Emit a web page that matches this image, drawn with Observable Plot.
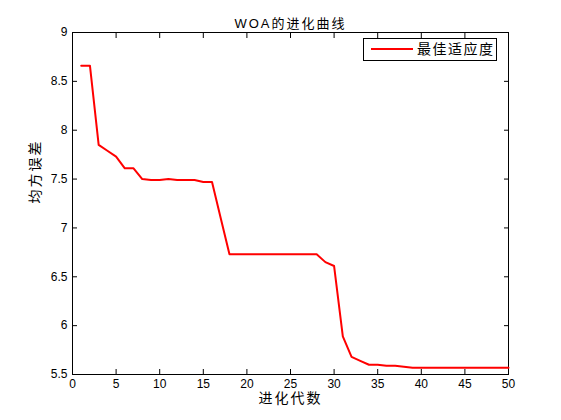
<!DOCTYPE html>
<html>
<head>
<meta charset="utf-8">
<script src="https://cdn.jsdelivr.net/npm/d3@7"></script>
<script src="https://cdn.jsdelivr.net/npm/@observablehq/plot@0.6"></script>
<style>
  html, body { margin: 0; padding: 0; background: #fff; }
  #wrap { position: relative; width: 561px; height: 420px; }
  #legend { position: absolute; left: 363px; top: 38px; width: 134px; height: 23px; border: 1px solid #000; background: #fff;
    font-family: "Liberation Sans", "Noto Sans CJK SC", sans-serif; font-size: 14px; box-sizing: border-box; }
  #legend .ln { position: absolute; left: 7px; top: 9px; width: 42px; height: 2px; background: #ff0000; }
  #legend .tx { position: absolute; left: 53px; top: 1px; line-height: 18px; letter-spacing: 1.5px; }
</style>
</head>
<body>
<div id="wrap"></div>
<script>
const generations = d3.range(1, 51);
const fitness = [
  8.66, 8.66, 7.85, 7.79, 7.73, 7.61, 7.61, 7.50, 7.49, 7.49,
  7.50, 7.49, 7.49, 7.49, 7.47, 7.47, 7.10, 6.73, 6.73, 6.73,
  6.73, 6.73, 6.73, 6.73, 6.73, 6.73, 6.73, 6.73, 6.65, 6.61,
  5.89, 5.68, 5.64, 5.60, 5.60, 5.59, 5.59, 5.58, 5.57, 5.57,
  5.57, 5.57, 5.57, 5.57, 5.57, 5.57, 5.57, 5.57, 5.57, 5.57
];
const xTicks = [0, 5, 10, 15, 20, 25, 30, 35, 40, 45, 50];
const yTicks = [5.5, 6, 6.5, 7, 7.5, 8, 8.5, 9];
const titleText = "WOA的进化曲线";
const xLabel = "进化代数";
const yLabel = "均方误差";
const legendLabel = "最佳适应度";

const data = generations.map((g, i) => ({g, v: fitness[i]}));
const font = "'Liberation Sans', 'Noto Sans CJK SC', sans-serif";

const chart = Plot.plot({
  width: 561,
  height: 420,
  marginLeft: 72,
  marginRight: 53,
  marginTop: 32,
  marginBottom: 46,
  style: {fontFamily: font, fontSize: "12px", color: "#000", background: "#fff"},
  x: {domain: [0, 50]},
  y: {domain: [5.5, 9]},
  marks: [
    Plot.frame({stroke: "#000"}),
    Plot.axisX({ticks: xTicks, tickSize: 0, tickPadding: 5, label: null, fontSize: 12}),
    Plot.axisX({ticks: xTicks, tickSize: -5, text: null, label: null}),
    Plot.axisX({anchor: "top", ticks: xTicks, tickSize: -5, text: null, label: null}),
    Plot.axisY({ticks: yTicks, tickSize: 0, tickPadding: 5, tickFormat: d => String(d), label: null, fontSize: 12}),
    Plot.axisY({ticks: yTicks, tickSize: -5, text: null, label: null}),
    Plot.axisY({anchor: "right", ticks: yTicks, tickSize: -5, text: null, label: null}),
    Plot.line(data, {x: "g", y: "v", stroke: "#ff0000", strokeWidth: 2}),
    Plot.text([titleText], {frameAnchor: "top", dy: -14, fontSize: 13, fill: "#000", style: "letter-spacing:2px"}),
    Plot.text([xLabel], {frameAnchor: "bottom", dy: 28, fontSize: 14, fill: "#000"}),
    Plot.text([yLabel], {frameAnchor: "left", dx: -37, rotate: -90, fontSize: 14, fill: "#000"})
  ]
});
chart.querySelectorAll("text").forEach(t => {
  if ([titleText, xLabel, yLabel].includes(t.textContent)) t.setAttribute("letter-spacing", "2px");
});
document.getElementById("wrap").appendChild(chart);
const leg = document.createElement("div");
leg.id = "legend";
leg.innerHTML = '<div class="ln"></div><div class="tx"></div>';
leg.querySelector(".tx").textContent = legendLabel;
document.getElementById("wrap").appendChild(leg);
</script>
</body>
</html>
